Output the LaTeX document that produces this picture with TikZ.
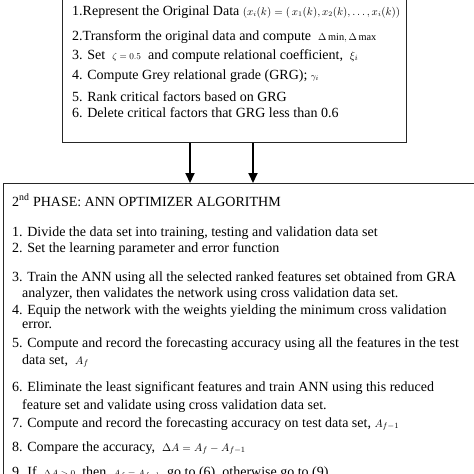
\documentclass[tikz,border=0pt]{standalone}
\usepackage{fontspec}
\setmainfont{Liberation Serif}
\usetikzlibrary{arrows.meta}
\newcommand\fm[1]{{\fontsize{11}{13}\selectfont$#1$}}
\newcommand\fs[1]{{\fontsize{9.5}{11}\selectfont$#1$}}
\begin{document}
\begin{tikzpicture}[x=1pt,y=-1pt,
  box/.style={draw=black!85, line width=1.3pt, inner sep=0pt},
  txt/.style={anchor=base west, inner sep=0pt, font=\fontsize{14}{16}\selectfont},
  arr/.style={line width=2pt, -{Triangle[length=10pt,width=9pt]}}]
\useasboundingbox (0,0) rectangle (474,474);
\clip (0,0) rectangle (474,474);
\fill[white] (0,0) rectangle (474,474);
\node[box, minimum width=344pt, minimum height=160pt, anchor=south west] (gra) at (62,143) {};
\node[box, minimum width=480pt, minimum height=320pt, anchor=north west] (ann) at (3,183) {};
\coordinate (c1) at (190,0);
\coordinate (c2) at (253,0);
\draw[arr] (gra.south -| c1) -- (ann.north -| c1);
\draw[arr] (gra.south -| c2) -- (ann.north -| c2);
% first box
\node[txt] (g1) at (72,15) {1.Represent the Original Data {\fontsize{10.5}{12}\selectfont$(x_i(k)=\left(\,x_1(k),x_2(k),\ldots,x_i(k)\right)$}};
\node[txt] (g2) at (72,40) {2.Transform the original data and compute \ {\fontsize{10.3}{12}\selectfont$\Delta\,\mathrm{min},\Delta\,\mathrm{max}$}};
\node[txt] (g3) at (72,59) {3. Set \ \fs{\zeta=0.5} \ and compute relational coefficient, \ \fm{\xi_i}};
\node[txt] (g4) at (72,79) {4. Compute Grey relational grade (GRG); \fs{\gamma_i}};
\node[txt] (g5) at (72,101) {5. Rank critical factors based on GRG};
\node[txt] (g6) at (72,117) {6. Delete critical factors that GRG less than 0.6};
% second box
\node[txt] (t0) at (12,206) {2\textsuperscript{nd} PHASE: ANN OPTIMIZER ALGORITHM};
\node[txt] (t1) at (12,236) {1. Divide the data set into training, testing and validation data set};
\node[txt] (t2) at (12,252) {2. Set the learning parameter and error function};
\node[txt] (t3) at (12,281) {3. Train the ANN using all the selected ranked features set obtained from GRA};
\node[txt] (t3b) at (22,297) {analyzer, then validates the network using cross validation data set.};
\node[txt] (t4) at (12,314) {4. Equip the network with the weights yielding the minimum cross validation};
\node[txt] (t4b) at (22,328) {error.};
\node[txt] (t5) at (12,347) {5. Compute and record the forecasting accuracy using all the features in the test};
\node[txt] (t5b) at (22,364) {data set, \ \fm{A_f}};
\node[txt] (t6) at (12,391) {6. Eliminate the least significant features and train ANN using this reduced};
\node[txt] (t6b) at (22,409) {feature set and validate using cross validation data set.};
\node[txt] (t7) at (12,427) {7. Compute and record the forecasting accuracy on test data set, \fm{A_{f-1}}};
\node[txt] (t8) at (12,451) {8. Compare the accuracy, \ \fm{\Delta A=A_f-A_{f-1}}};
\node[txt] (t9) at (12,476) {9. If \ \fs{\Delta A>0} \ then \ \fs{A_f=A_{f-1}} \ go to (6), otherwise go to (9)};
\end{tikzpicture}
\end{document}
